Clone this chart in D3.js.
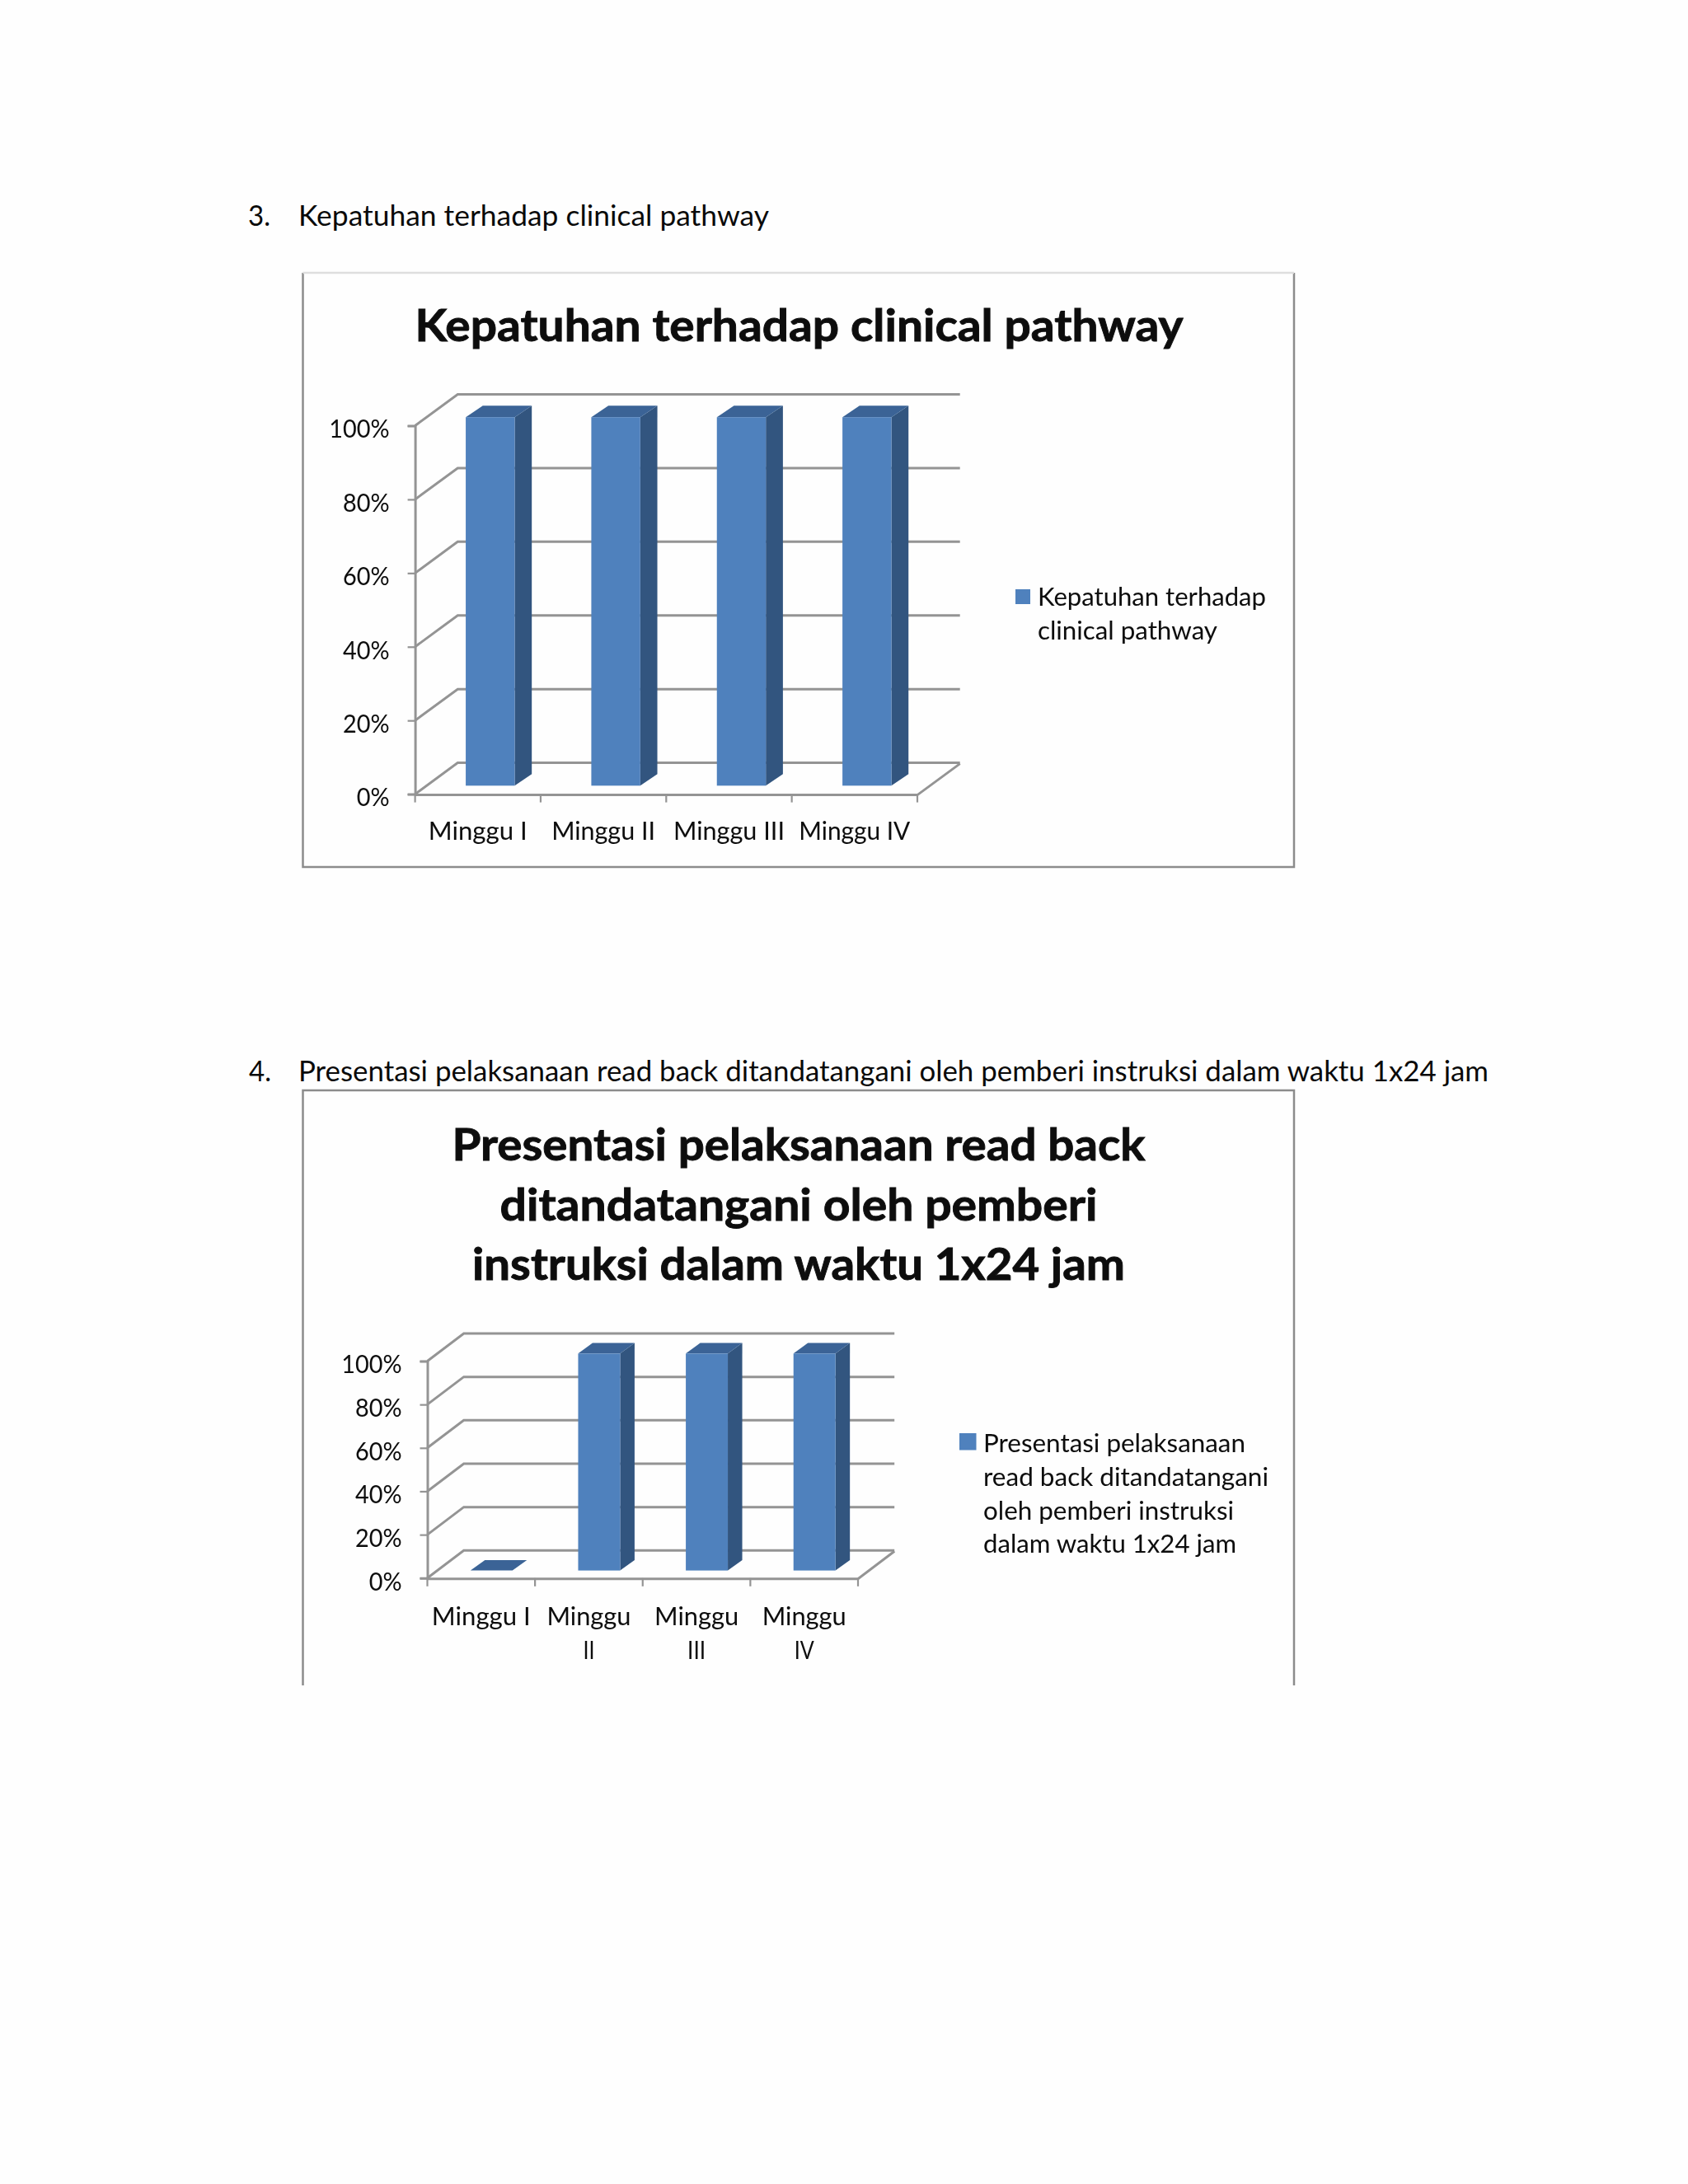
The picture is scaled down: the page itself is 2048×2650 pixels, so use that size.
<!DOCTYPE html>
<html>
<head>
<meta charset="utf-8">
<title>Kepatuhan</title>
<script src="https://cdnjs.cloudflare.com/ajax/libs/d3/7.8.5/d3.min.js"></script>
<style>
  html, body { margin: 0; padding: 0; background: #fefefe; }
  svg { display: block; }
  text { font-family: Lato, "Open Sans", sans-serif; fill: #0a0a0a; }
</style>
</head>
<body>
<svg width="2048" height="2650" viewBox="0 0 2048 2650">
  <defs>
    <filter id="soft" x="-2%" y="-2%" width="104%" height="104%">
      <feGaussianBlur stdDeviation="0.6"></feGaussianBlur>
    </filter>
  </defs>
</svg>
<script>
// values
const weeks = ["Minggu I", "Minggu II", "Minggu III", "Minggu IV"];
const compliance = [1, 1, 1, 1];
const readBack = [0, 1, 1, 1];
const percentTicks = [0, 0.2, 0.4, 0.6, 0.8, 1];

const complianceTitle = ["Kepatuhan terhadap clinical pathway"];
const readBackTitle = [
    "Presentasi pelaksanaan read back",
    "ditandatangani oleh pemberi",
    "instruksi dalam waktu 1x24 jam"
];
const complianceLegend = ["Kepatuhan terhadap", "clinical pathway"];
const readBackLegend = [
    "Presentasi pelaksanaan",
    "read back ditandatangani",
    "oleh pemberi instruksi",
    "dalam waktu 1x24 jam"
];
const readBackWeekLines = [["Minggu I"], ["Minggu", "II"], ["Minggu", "III"], ["Minggu", "IV"]];

const svg = d3.select("svg");
const GRID = "#949494", FRONT = "#4f81bd", SIDE = "#31547f", TOP = "#3a6496";

// textLength keeps each line as wide as it is in the picture
function addText(parent, str, x, y, size, width, opts = {}) {
    const t = parent.append("text")
        .attr("x", x).attr("y", y)
        .attr("font-size", size)
        .attr("font-weight", opts.weight || 400)
        .attr("text-anchor", opts.anchor || "start")
        .text(str);
    if (width) t.attr("textLength", width).attr("lengthAdjust", "spacingAndGlyphs");
    return t;
}

function drawChart(cfg) {
    const g = svg.append("g").attr("filter", "url(#soft)");

    const y = d3.scaleLinear().domain([0, 1]).range([cfg.floor, cfg.top]);
    const x = d3.scaleBand().domain(weeks).range([cfg.left, cfg.right])
        .paddingInner(0.61).paddingOuter(0.305);

    // frame
    const frame = cfg.frame;
    const framePath = cfg.closed
        ? `M${frame.x0},${frame.y0}V${frame.y1}H${frame.x1}V${frame.y0}`
        : `M${frame.x0},${frame.y1}V${frame.y0}H${frame.x1}V${frame.y1}`;
    g.append("path").attr("d", framePath)
        .attr("fill", "none")
        .attr("stroke", "#8c8c8c")
        .attr("stroke-width", 2.5);
    if (cfg.closed) {
        // top edge of the first frame is faint in the scan
        g.append("line")
            .attr("x1", frame.x0).attr("x2", frame.x1)
            .attr("y1", frame.y0).attr("y2", frame.y0)
            .attr("stroke", "#dedede").attr("stroke-width", 2.5);
    }

    // title
    cfg.title.forEach((line, i) => {
        addText(g, line, cfg.titleX, cfg.titleY + i * 72.5, 53, cfg.titleWidths[i], { weight: 700, anchor: "middle" })
            .attr("stroke", "#0a0a0a").attr("stroke-width", 0.9);
    });

    // back wall and side wall gridlines
    const grid = g.append("g").attr("fill", "none").attr("stroke", GRID);
    grid.selectAll("path.wall")
        .data(percentTicks)
        .enter()
        .append("path")
        .attr("class", "wall")
        .attr("stroke-width", 3)
        .attr("d", d => `M${cfg.left},${y(d)}l${cfg.depthX},${-cfg.depthY}H${cfg.right + cfg.depthX}`);

    // floor front edge and right edge
    grid.append("path")
        .attr("stroke-width", 3)
        .attr("d", `M${cfg.left},${y(0) + 1}H${cfg.right}l${cfg.depthX},${-cfg.depthY}`);

    // y axis
    const yAxis = d3.axisLeft(y)
        .tickValues(percentTicks)
        .tickFormat(d3.format(".0%"))
        .tickSize(9)
        .tickPadding(22);
    const yG = g.append("g").attr("transform", `translate(${cfg.left},0)`).call(yAxis);
    yG.select(".domain").attr("stroke", GRID).attr("stroke-width", 3);
    yG.selectAll(".tick line").attr("stroke", GRID).attr("stroke-width", 2.2);
    yG.selectAll(".tick text")
        .attr("font-size", 31).attr("font-family", "Lato").attr("fill", "#0a0a0a")
        .attr("dy", "0.46em")
        .each(function () {
            d3.select(this)
                .attr("textLength", this.getComputedTextLength() * 0.93)
                .attr("lengthAdjust", "spacingAndGlyphs");
        });

    // x axis ticks sit on the band edges, labels on the band centres
    const edges = d3.range(weeks.length + 1).map(i => cfg.left + i * x.step());
    g.append("g").selectAll("line")
        .data(edges)
        .enter()
        .append("line")
        .attr("x1", d => d).attr("x2", d => d)
        .attr("y1", y(0)).attr("y2", y(0) + 10)
        .attr("stroke", GRID).attr("stroke-width", 2.2);
    const labels = g.append("g");
    weeks.forEach((w, i) => {
        cfg.weekLines[i].forEach((line, j) => {
            addText(labels, line, x(w) + x.bandwidth() / 2, cfg.labelY + j * 41, 31, cfg.labelWidth(line), { anchor: "middle" });
        });
    });

    // 3d bars: front face is pushed a little into the floor
    const bars = g.append("g").selectAll("g")
        .data(cfg.values.map((v, i) => ({ week: weeks[i], value: v })))
        .enter()
        .append("g");
    const bx = d => x(d.week) + cfg.barShiftX;
    const bw = x.bandwidth();
    const base = y(0) - cfg.barShiftY;
    const top = d => y(d.value) - cfg.barShiftY;

    bars.filter(d => d.value > 0).append("path")
        .attr("fill", SIDE)
        .attr("d", d => `M${bx(d) + bw},${top(d)}l${cfg.barDepthX},${-cfg.barDepthY}V${base - cfg.barDepthY}L${bx(d) + bw},${base}Z`);
    bars.append("path")
        .attr("fill", TOP)
        .attr("d", d => `M${bx(d)},${top(d)}l${cfg.barDepthX},${-cfg.barDepthY}h${bw}l${-cfg.barDepthX},${cfg.barDepthY}Z`);
    bars.filter(d => d.value > 0).append("rect")
        .attr("fill", FRONT)
        .attr("x", d => bx(d))
        .attr("y", d => top(d))
        .attr("width", bw)
        .attr("height", d => base - top(d));

    // legend
    g.append("rect")
        .attr("x", cfg.legendX).attr("y", cfg.legendSwatchY)
        .attr("width", cfg.swatch).attr("height", cfg.swatch)
        .attr("fill", FRONT);
    cfg.legend.forEach((line, i) => {
        addText(g, line, cfg.legendTextX, cfg.legendY + i * 40.8, 30, cfg.legendWidths[i]);
    });
}

// page headings
addText(svg, "3.", 301, 274, 34, 27);
addText(svg, "Kepatuhan terhadap clinical pathway", 362, 274, 34, 571);
addText(svg, "4.", 302, 1312, 34, 27);
addText(svg, "Presentasi pelaksanaan read back ditandatangani oleh pemberi instruksi dalam waktu 1x24 jam", 362, 1312, 34, 1444);

drawChart({
    frame: { x0: 367.5, x1: 1570, y0: 331, y1: 1052 },
    closed: true,
    title: complianceTitle, titleX: 969.5, titleY: 414, titleWidths: [932],
    left: 503.6, right: 1113, top: 516.5, floor: 963.6,
    depthX: 51.7, depthY: 38,
    barShiftX: 15, barShiftY: 10.3, barDepthX: 20.7, barDepthY: 14,
    values: compliance,
    weekLines: weeks.map(w => [w]),
    labelY: 1019,
    labelWidth: s => ({ "Minggu I": 120, "Minggu II": 126, "Minggu III": 135, "Minggu IV": 135 })[s],
    legend: complianceLegend, legendX: 1232, legendSwatchY: 715, swatch: 18,
    legendTextX: 1259, legendY: 735, legendWidths: [277, 218]
});

drawChart({
    frame: { x0: 367.5, x1: 1570, y0: 1323, y1: 2045 },
    closed: false,
    title: readBackTitle, titleX: 969, titleY: 1408, titleWidths: [841, 725, 792],
    left: 518.5, right: 1041, top: 1651.5, floor: 1914.8,
    depthX: 44.2, depthY: 33.5,
    barShiftX: 12.5, barShiftY: 9.2, barDepthX: 17.5, barDepthY: 12.7,
    values: readBack,
    weekLines: readBackWeekLines,
    labelY: 1972,
    labelWidth: s => ({ "Minggu I": 120, "Minggu": 102, "II": 14, "III": 22, "IV": 24 })[s],
    legend: readBackLegend, legendX: 1164, legendSwatchY: 1739, swatch: 20.5,
    legendTextX: 1193, legendY: 1762, legendWidths: [318, 346, 304, 307]
});
</script>
</body>
</html>
